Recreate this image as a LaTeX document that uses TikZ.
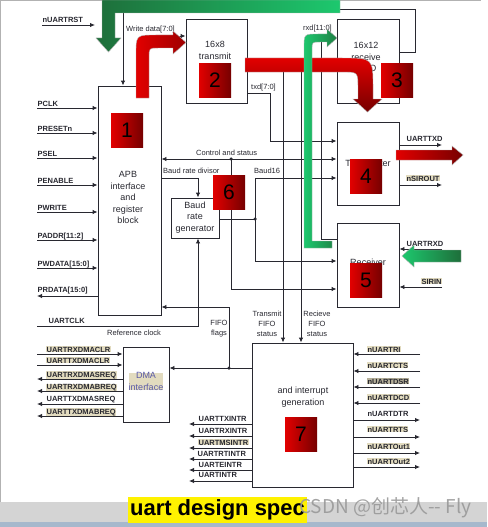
\documentclass[tikz,border=0pt]{standalone}
\usepackage{fontspec}
\setmainfont{Liberation Sans}
\newfontfamily\cjk{Noto Sans CJK SC}
\usetikzlibrary{arrows.meta}
\definecolor{nred}{RGB}{226,0,0}
\definecolor{ndark}{RGB}{118,0,0}
\definecolor{gdark}{RGB}{30,110,58}
\definecolor{gbright}{RGB}{29,200,110}
\definecolor{hlc}{RGB}{226,219,191}
\definecolor{ink}{RGB}{40,40,48}
\definecolor{barblue}{RGB}{166,184,204}
\tikzset{
  blk/.style={draw=ink, line width=0.9pt, fill=white, inner sep=0pt},
  blktxt/.style={align=center, font=\fontsize{9}{11.5}\selectfont, text=ink, inner sep=0pt},
  wire/.style={draw=ink, line width=0.9pt},
  sig/.style={wire, -{Latex[length=5pt,width=4.5pt]}},
  lbl/.style={font=\fontsize{7.5}{8}\selectfont\bfseries, text=ink, inner sep=0.4pt, anchor=base west},
  hl/.style={lbl, fill=hlc},
  note/.style={font=\fontsize{7.5}{10}\selectfont, text=ink, inner sep=0pt, align=center},
  numbox/.style={minimum width=32pt, minimum height=34pt, inner sep=0pt, left color=nred, right color=ndark, font=\fontsize{21}{21}\selectfont},
  dot/.style={circle, fill=ink, inner sep=0pt, minimum size=3.5pt},
  fat/.style={draw=gray!60, line width=0.4pt},
}
\begin{document}
\begin{tikzpicture}[x=1pt,y=-1pt]
            \useasboundingbox (0,0) rectangle (487,527);
            % page
            \fill[white] (0,0) rectangle (487,502);
            \fill[black!17] (0,502) rectangle (487,522);
            \fill[barblue] (0,522) rectangle (487,527);
            \draw[gray!60, line width=0.6pt] (0.5,502) -- (0.5,0.8) -- (481,0.8);

            % blocks
            \node[blk, minimum width=63pt, minimum height=229pt] (apb) at (129.5,200.5) {};
            \node[blk, minimum width=61pt, minimum height=84pt] (tfifo) at (216.5,61) {};
            \node[blk, minimum width=62pt, minimum height=84pt] (rfifo) at (368,61) {};
            \node[blk, minimum width=62pt, minimum height=83pt] (tx) at (368,163.5) {};
            \node[blk, minimum width=62pt, minimum height=84pt] (rx) at (368,265) {};
            \node[blk, minimum width=48pt, minimum height=40pt] (baud) at (195,218) {};
            \node[blk, minimum width=46pt, minimum height=75pt] (dma) at (146,384.5) {};
            \node[blk, minimum width=101pt, minimum height=144pt] (intr) at (302.5,415) {};

            \node[blktxt] (apbtxt) at (128,197.5) {APB\\interface\\and\\register\\block};
            \node[blktxt] (tftxt) at (215,50.5) {16x8\\transmit};
            \node[blktxt] (rftxt) at (366,57) {16x12\\receive\\FIFO};
            \node[blktxt] (txtxt) at (368,163) {Transmitter};
            \node[blktxt] (rxtxt) at (368,262) {Receiver};
            \node[blktxt] (bdtxt) at (195,217.5) {Baud\\rate\\generator};
            \node[blktxt, fill=hlc, text=gray!70!blue] (dmatxt) at (146,381.5) {DMA\\interface};
            \node[blktxt] (intxt) at (303,397) {and interrupt\\generation};

            % read data loop and reset
            \coordinate (rfret) at (415,52);
            \coordinate (lpR) at (415,9);
            \coordinate (lpL) at (123,9);
            \draw[sig] (rfifo.east |- rfret) -- (rfret) -- (lpR) -- (lpL) -- (lpL |- apb.north);
            \coordinate (rst) at (42,25);
            \coordinate (rstE) at (95,25);
            \draw[sig] (rst) -- (rstE);
            \node[lbl] at ([yshift=2pt]rst) {nUARTRST};

            % write data
            \coordinate (wd) at (143,36);
            \draw[sig] (wd |- apb.north) -- (wd) -- (wd -| tfifo.west);
            \node[note, anchor=base west] at (126,31.5) {Write data[7:0]};

            % APB bus
            \coordinate (pclk) at (37,108);
            \coordinate (preset) at (37,133);
            \coordinate (psel) at (37,158);
            \coordinate (penable) at (37,185);
            \coordinate (pwrite) at (37,212);
            \coordinate (paddr) at (37,240);
            \coordinate (pwdata) at (37,268);
            \coordinate (prdata) at (37,296);
            \draw[sig] (pclk) -- (pclk -| apb.west);
            \draw[sig] (preset) -- (preset -| apb.west);
            \draw[sig] (psel) -- (psel -| apb.west);
            \draw[sig] (penable) -- (penable -| apb.west);
            \draw[sig] (pwrite) -- (pwrite -| apb.west);
            \draw[sig] (paddr) -- (paddr -| apb.west);
            \draw[sig] (pwdata) -- (pwdata -| apb.west);
            \draw[sig] (prdata -| apb.west) -- (prdata);
            \node[lbl] at ([yshift=2pt]pclk) {PCLK};
            \node[lbl] at ([yshift=2pt]preset) {PRESETn};
            \node[lbl] at ([yshift=2pt]psel) {PSEL};
            \node[lbl] at ([yshift=2pt]penable) {PENABLE};
            \node[lbl] at ([yshift=2pt]pwrite) {PWRITE};
            \node[lbl] at ([yshift=2pt]paddr) {PADDR[11:2]};
            \node[lbl] at ([yshift=2pt]pwdata) {PWDATA[15:0]};
            \node[lbl] at ([yshift=3.5pt]prdata) {PRDATA[15:0]};

            % clock
            \coordinate (clk) at (37,326);
            \coordinate (clkR) at (198,326);
            \draw[sig] (clk) -- (clkR) -- (clkR |- baud.south);
            \node[lbl] at (48,323.5) {UARTCLK};
            \node[note, anchor=base west] at (107,335.5) {Reference clock};

            % baud rate divisor
            \coordinate (brd) at (198,178);
            \draw[sig] (brd -| apb.east) -- (brd) -- (brd |- baud.north);
            \node[note, anchor=base west] at (163,173.5) {Baud rate divisor};

            % control and status
            \coordinate (cs) at (231,159);
            \coordinate (csR) at (231,289);
            \draw[sig] (cs) -- (cs -| apb.east);
            \draw[sig] (cs) -- (cs -| tx.west);
            \draw[sig] (cs) -- (csR) -- (csR -| rx.west);
            \node[dot] at (cs) {};
            \node[note, anchor=base west] at (196,155) {Control and status};

            % txd
            \coordinate (txd) at (270,93);
            \coordinate (txdD) at (270,141);
            \draw[sig] (tfifo.east |- txd) -- (txd) -- (txdD) -- (txdD -| tx.west);
            \node[note, anchor=base west] at (251,89) {txd[7:0]};

            % baud16
            \coordinate (b16) at (255,219);
            \coordinate (b16T) at (255,178);
            \coordinate (b16B) at (255,261);
            \draw[wire] (baud.east |- b16) -- (b16);
            \draw[sig] (b16) -- (b16T) -- (b16T -| tx.west);
            \draw[sig] (b16) -- (b16B) -- (b16B -| rx.west);
            \node[dot] at (b16) {};
            \node[note, anchor=base west] at (254,173.5) {Baud16};

            % fifo status
            \coordinate (tfs) at (283,66);
            \coordinate (rfs) at (301,66);
            \draw[sig] (tfifo.east |- tfs) -- (tfs) -- (tfs |- intr.north);
            \draw[sig] (rfifo.west |- rfs) -- (rfs) -- (rfs |- intr.north);
            \node[note, anchor=north] at (267,311) {Transmit\\FIFO\\status};
            \node[note, anchor=north] at (317,311) {Recieve\\FIFO\\status};

            % rxd
            \coordinate (rxdB) at (321,239);
            \coordinate (rxdT) at (321,38);
            \draw[sig] (rx.west |- rxdB) -- (rxdB) -- (rxdT) -- (rxdT -| rfifo.west);
            \node[note, anchor=base west] at (303,31) {rxd[11:0]};

            % fifo flags
            \coordinate (ff) at (229,368);
            \coordinate (ffU) at (229,307);
            \draw[sig] (intr.west |- ff) -- (ff -| dma.east);
            \draw[sig] (ff) -- (ffU) -- (ffU -| apb.east);
            \node[dot] at (ff) {};
            \node[note, anchor=north] at (219,320) {FIFO\\flags};

            % serial pins
            \coordinate (txo) at (442,145);
            \coordinate (siro) at (442,185);
            \coordinate (rxi) at (442,249);
            \coordinate (siri) at (442,287);
            \draw[sig] (tx.east |- txo) -- (txo);
            \draw[sig] (tx.east |- siro) -- (siro);
            \draw[sig] (rxi) -- (rxi -| rx.east);
            \draw[sig] (siri) -- (siri -| rx.east);
            \node[lbl] at (406,141) {UARTTXD};
            \node[hl] at (406,181) {nSIROUT};
            \node[lbl] at (406,246) {UARTRXD};
            \node[hl] at (421,284) {SIRIN};

            % dma
            \coordinate (rxclr) at (37,354);
            \coordinate (txclr) at (37,365);
            \coordinate (rxsreq) at (37,379);
            \coordinate (rxbreq) at (37,391);
            \coordinate (txsreq) at (37,404);
            \coordinate (txbreq) at (37,416);
            \draw[sig] (rxclr) -- (rxclr -| dma.west);
            \draw[sig] (txclr) -- (txclr -| dma.west);
            \draw[sig] (rxsreq -| dma.west) -- (rxsreq);
            \draw[sig] (rxbreq -| dma.west) -- (rxbreq);
            \draw[sig] (txsreq -| dma.west) -- (txsreq);
            \draw[sig] (txbreq -| dma.west) -- (txbreq);
            \node[hl] at (46,352) {UARTRXDMACLR};
            \node[hl] at (46,363) {UARTTXDMACLR};
            \node[hl] at (46,377) {UARTRXDMASREQ};
            \node[hl] at (46,389.5) {UARTRXDMABREQ};
            \node[lbl] at (46,401) {UARTTXDMASREQ};
            \node[hl] at (46,414) {UARTTXDMABREQ};

            % interrupts
            \coordinate (txintr) at (189,424);
            \coordinate (rxintr) at (189,436);
            \coordinate (msintr) at (189,448);
            \coordinate (rtintr) at (189,459);
            \coordinate (eintr) at (189,470);
            \coordinate (uintr) at (189,481);
            \draw[sig] (txintr -| intr.west) -- (txintr);
            \draw[sig] (rxintr -| intr.west) -- (rxintr);
            \draw[sig] (msintr -| intr.west) -- (msintr);
            \draw[sig] (rtintr -| intr.west) -- (rtintr);
            \draw[sig] (eintr -| intr.west) -- (eintr);
            \draw[sig] (uintr -| intr.west) -- (uintr);
            \node[lbl] at (198,421) {UARTTXINTR};
            \node[lbl] at (198,433) {UARTRXINTR};
            \node[hl] at (198,445) {UARTMSINTR};
            \node[lbl] at (197,456) {UARTRTINTR};
            \node[lbl] at (198,467) {UARTEINTR};
            \node[lbl] at (198,477.5) {UARTINTR};

            % modem lines
            \coordinate (ri) at (420,354);
            \coordinate (cts) at (420,371);
            \coordinate (dsr) at (420,387);
            \coordinate (dcd) at (420,403);
            \coordinate (dtr) at (420,420);
            \coordinate (rts) at (420,437);
            \coordinate (out1) at (420,453);
            \coordinate (out2) at (420,467);
            \draw[sig] (ri) -- (ri -| intr.east);
            \draw[sig] (cts) -- (cts -| intr.east);
            \draw[sig] (dsr) -- (dsr -| intr.east);
            \draw[sig] (dcd) -- (dcd -| intr.east);
            \draw[sig] (dtr -| intr.east) -- (dtr);
            \draw[sig] (rts -| intr.east) -- (rts);
            \draw[sig] (out1 -| intr.east) -- (out1);
            \draw[sig] (out2 -| intr.east) -- (out2);
            \node[hl] at (367,352) {nUARTRI};
            \node[hl] at (367,368) {nUARTCTS};
            \node[hl, fill=hlc!80!black] at (367,384) {nUARTDSR};
            \node[hl] at (367,400) {nUARTDCD};
            \node[lbl] at (367,416) {nUARTDTR};
            \node[hl] at (367,432) {nUARTRTS};
            \node[hl] at (367,449) {nUARTOut1};
            \node[hl] at (367,464) {nUARTOut2};

            % fat arrows
            \shade[fat, left color=gdark, right color=gbright] (340,0) -- (102,0) -- (102,38) -- (96,38) -- (108.5,52) -- (121,38) -- (115,38) -- (115,13) -- (340,13) -- cycle;
            \shade[fat, left color=nred, right color=nred!70!black] (136,98) -- (136,55) .. controls (136,35) .. (156,35) -- (173,35) -- (173,31) -- (186,42.5) -- (173,54) -- (173,48) -- (158,48) .. controls (149,48) .. (149,58) -- (149,98) -- cycle;
            \shade[fat, top color=nred, bottom color=ndark] (245,58) -- (342,58) .. controls (373,58) .. (373,88) -- (373,99) -- (382,99) -- (367.5,112) -- (353,99) -- (358,99) -- (358,88) .. controls (358,72) .. (342,72) -- (245,72) -- cycle;
            \shade[fat, left color=nred, right color=ndark] (396,150) -- (452,150) -- (452,146) -- (463,155) -- (452,165) -- (452,160) -- (396,160) -- cycle;
            \shade[fat, left color=gbright, right color=gdark!80!gbright] (332,241) -- (312,241) -- (312,50) .. controls (312,42) .. (320,42) -- (327,42) -- (327,47) -- (337,38) -- (327,29) -- (327,34) -- (318,34) .. controls (304,34) .. (304,48) -- (304,248) -- (332,248) -- cycle;
            \shade[fat, left color=gbright, right color=gdark] (461,250) -- (414,250) -- (414,245) -- (402,256) -- (414,267) -- (414,262) -- (461,262) -- cycle;

            % numbers
            \node[numbox] (n1) at (127,130) {1};
            \node[numbox] (n2) at (215,80.5) {2};
            \node[numbox] (n3) at (397,80.5) {3};
            \node[numbox] (n4) at (366,176) {4};
            \node[numbox] (n5) at (366,280) {5};
            \node[numbox] (n6) at (229,192.5) {6};
            \node[numbox] (n7) at (301,434) {7};

            % caption
            \node[fill=yellow, font=\fontsize{22}{22}\selectfont\bfseries, minimum width=179pt, minimum height=26pt, inner sep=0pt] (title) at (217.5,510) {uart design spec};
            \node[font={\cjk\fontsize{19}{19}\selectfont}, text=black!40, text opacity=0.9, anchor=west, inner sep=0pt] (wm) at (299,508) {CSDN @创芯人-- Fly};
            \end{tikzpicture}
\end{document}
